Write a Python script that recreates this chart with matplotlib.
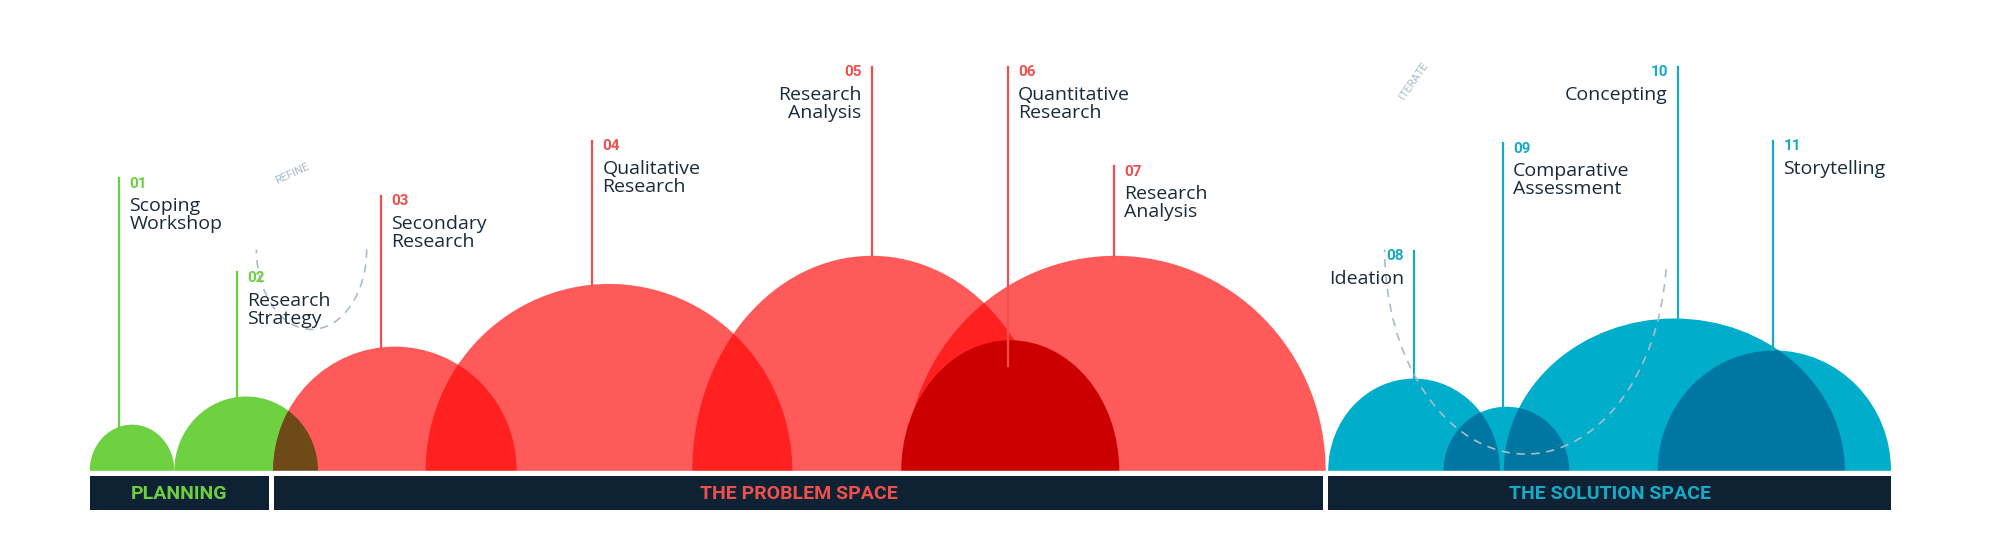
import numpy as np
import matplotlib.pyplot as plt
from matplotlib.patches import Ellipse, Rectangle, Arc
from matplotlib.colors import to_rgb

# phases: (label, start, end, colour)
phase_names = ['PLANNING', 'THE PROBLEM SPACE', 'THE SOLUTION SPACE']
phase_start = [70, 214, 1036]
phase_end = [210, 1032, 1475]

GREEN = '#6dd142'
RED = '#ff5a5a'
TEAL = '#00aecb'
phase_colors = [GREEN, RED, TEAL]
phase_text = ['#6dcf3f', '#f0504d', '#17a9c6']

# steps
step_nums = ['01', '02', '03', '04', '05', '06', '07', '08', '09', '10', '11']
step_names = ['Scoping\nWorkshop', 'Research\nStrategy', 'Secondary\nResearch',
              'Qualitative\nResearch', 'Research\nAnalysis', 'Quantitative\nResearch',
              'Research\nAnalysis', 'Ideation', 'Comparative\nAssessment',
              'Concepting', 'Storytelling']
step_phase = [0, 0, 1, 1, 1, 1, 1, 2, 2, 2, 2]
dome_x = [103, 192, 308, 475, 680, 788, 870, 1103, 1175, 1306, 1384]
dome_hw = [33, 56, 95, 143, 140, 85, 164, 67, 49, 133, 91]
dome_h = [36, 58, 97, 146, 168, 102, 168, 72, 50, 119, 94]
stem_x = [93, 185, 297, 462, 680, 786, 869, 1103, 1172, 1309, 1383]
stem_top = [139, 213, 153, 110, 52, 52, 130, 196, 112, 52, 110]
stem_bot = [336, 311, 272, 223, 200, 286, 200, 296, 318, 249, 274]
label_left = [False, False, False, False, True, False, False, True, False, True, False]
overlaps = [(1, 2), (2, 3), (3, 4), (4, 6), (7, 8), (8, 9), (9, 10)]

BASE = 368
fig = plt.figure(figsize=(20, 5.5), dpi=100)
ax = fig.add_axes([0, 0, 1, 1])
ax.set_xlim(0, 1560)
ax.set_ylim(430, 0)
ax.axis('off')


def dome(i, color, z):
    e = Ellipse((dome_x[i], BASE), 2 * dome_hw[i], 2 * dome_h[i], color=color, lw=0, zorder=z)
    ax.add_patch(e)
    return e


domes = []
for i in range(len(step_nums)):
    c = phase_colors[step_phase[i]]
    if i == 5:
        domes.append(None)
        continue
    domes.append(dome(i, c, 1))

# multiply-style overlaps
for a, b in overlaps:
    ca = np.array(to_rgb(phase_colors[step_phase[a]]))
    cb = np.array(to_rgb(phase_colors[step_phase[b]]))
    e = dome(a, tuple(ca * cb), 2)
    e.set_clip_path(domes[b])
dome(5, '#cc0000', 3)

# gap under baseline + bars
ax.add_patch(Rectangle((0, BASE), 1560, 100, color='white', zorder=4))
for name, s, e, tc in zip(phase_names, phase_start, phase_end, phase_text):
    ax.add_patch(Rectangle((s, 372), e - s, 27, color='#0e2233', lw=0, zorder=5))
    ax.text((s + e) / 2, 386, name, color=tc, fontsize=14, fontweight='bold',
            ha='center', va='center', family='Roboto', zorder=6)

# stems and labels
for i in range(len(step_nums)):
    tc = phase_text[step_phase[i]]
    ax.plot([stem_x[i], stem_x[i]], [stem_top[i], stem_bot[i]], color=tc, lw=1.6, zorder=5)
    if label_left[i]:
        tx, ha = stem_x[i] - 8, 'right'
    else:
        tx, ha = stem_x[i] + 8, 'left'
    ax.text(tx, stem_top[i] - 1, step_nums[i], color=tc, fontsize=11, fontweight='bold',
            ha=ha, va='top', family='Roboto', zorder=6)
    ax.text(tx, stem_top[i] + 15, step_names[i], color='#1b2a3a', fontsize=14,
            ha=ha, va='top', family='Open Sans', linespacing=1.0, zorder=6)

# dashed loops
arc_col = '#a9bccb'
ax.add_patch(Arc((243, 195), 86, 125, theta1=0, theta2=180, color=arc_col, lw=1.2,
                 ls=(0, (5, 4)), zorder=5))
ax.text(228, 136, 'REFINE', color=arc_col, fontsize=8, rotation=25,
        ha='center', va='center', family='Roboto')
ax.add_patch(Arc((1190, 195), 220, 320, theta1=8, theta2=180, color=arc_col, lw=1.2,
                 ls=(0, (5, 4)), zorder=5))
ax.text(1103, 63, 'ITERATE', color=arc_col, fontsize=8, rotation=55,
        ha='center', va='center', family='Roboto')

fig.savefig('out.png', dpi=100)
